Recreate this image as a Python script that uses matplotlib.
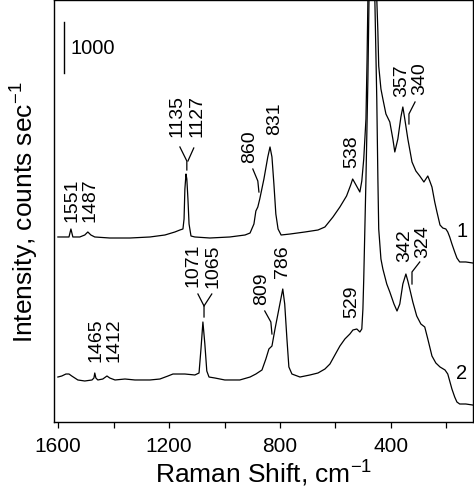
import matplotlib
matplotlib.use("Agg")
import matplotlib.pyplot as plt

plt.rcParams['font.family'] = ['Liberation Sans', 'DejaVu Sans']

# ---- spectrum 1 (upper trace) : Raman shift (cm-1), intensity (counts/s)
shift1 = [1601, 1576, 1561, 1554, 1547, 1522, 1504, 1493, 1482, 1468, 1414, 1341, 1269, 1215,
          1179, 1161, 1150, 1146, 1143, 1139, 1136, 1132, 1128, 1121, 1107, 1053, 981, 926,
          908, 894, 887, 880, 873, 858, 844, 836, 829, 822, 815, 807, 796, 764, 710, 663,
          638, 609, 584, 560, 545, 538, 526, 512, 505, 498, 490, 486, 483, 472, 461, 454,
          451, 447, 444, 436, 429, 418, 404, 393, 386, 375, 364, 357, 350, 339, 324, 310,
          296, 281, 274, 267, 260, 252, 242, 234, 223, 213, 202, 195, 188, 180, 170, 162,
          152, 130, 105]
int1 = [3628, 3628, 3628, 3785, 3628, 3628, 3667, 3726, 3667, 3628, 3608, 3608, 3628, 3667,
        3726, 3765, 3785, 3981, 4569, 4863, 4765, 4373, 3883, 3647, 3628, 3608, 3628, 3667,
        3706, 3883, 4138, 4216, 4373, 4765, 5197, 5393, 5197, 4667, 4079, 3785, 3667, 3686,
        3726, 3765, 3824, 4020, 4216, 4432, 4648, 4765, 4648, 4510, 4726, 5157, 5942, 7118,
        8295, 11236, 11236, 8883, 8295, 7648, 6981, 6530, 6334, 6040, 5883, 5550, 5295, 5550,
        5981, 6177, 5942, 5550, 5099, 4922, 4824, 4706, 4765, 4824, 4726, 4608, 4314, 4118,
        3863, 3804, 3785, 3726, 3628, 3491, 3334, 3216, 3138, 3138, 3118]

# ---- spectrum 2 (lower trace)
shift2 = [1601, 1587, 1572, 1561, 1551, 1529, 1504, 1478, 1471, 1468, 1464, 1457, 1439, 1424,
          1414, 1395, 1359, 1323, 1269, 1233, 1204, 1186, 1143, 1107, 1092, 1085, 1078, 1071,
          1064, 1056, 1035, 999, 945, 908, 887, 865, 851, 840, 829, 818, 804, 790, 783, 775,
          768, 757, 728, 692, 663, 638, 620, 602, 584, 566, 548, 537, 523, 512, 505, 501,
          498, 490, 483, 479, 469, 461, 458, 451, 447, 444, 436, 429, 415, 404, 389, 378,
          368, 357, 346, 339, 332, 321, 307, 292, 278, 267, 252, 238, 223, 205, 195, 188,
          180, 170, 162, 152, 130, 105]
int2 = [882, 902, 941, 941, 902, 824, 804, 824, 863, 961, 863, 824, 843, 902,
        863, 824, 843, 824, 824, 843, 902, 941, 941, 922, 961, 1432, 1961, 1530,
        1000, 882, 863, 824, 824, 882, 941, 1020, 1235, 1432, 1490, 1824, 2216, 2608, 2314, 1628,
        1079, 941, 882, 922, 961, 1039, 1137, 1314, 1490, 1628, 1726, 1804, 1824, 1765, 1824, 2216,
        2804, 4765, 6726, 8295, 11236, 11236, 8295, 6334, 4765, 3785, 3196, 3000, 2706, 2549, 2314, 2177,
        2314, 2706, 2902, 2765, 2608, 2353, 2079, 1922, 1863, 1628, 1294, 1157, 1079, 1020, 941, 804,
        647, 490, 392, 353, 353, 333]

# ---- peak labels: text, label centre x, label bottom y
labels_text = ['1551', '1487', '1135', '1127', '860', '831', '538', '357', '340',
               '1465', '1412', '1071', '1065', '809', '786', '529', '342', '324']
labels_x = [1551, 1486, 1172, 1100, 909, 819, 541, 362, 297,
            1464, 1399, 1114, 1042, 865, 790, 541, 352, 287]
labels_y = [3942, 3942, 5608, 5608, 5099, 5648, 5000, 6393, 6432,
            1196, 1196, 2667, 2647, 2314, 2843, 2059, 3157, 3236]

# leader lines (polylines) for close / shoulder peaks
leaders = [
    ([1161, 1136, 1136, 1136], [5393, 5118, 5118, 4942]),
    ([1111, 1132], [5373, 5118]),
    ([898, 880, 876], [4961, 4726, 4510]),
    ([313, 335, 335], [6275, 6040, 5844]),
    ([1096, 1074, 1074], [2510, 2275, 2059]),
    ([1046, 1074], [2510, 2275]),
    ([855, 833, 829], [2177, 1961, 1726]),
    ([296, 324, 324], [3138, 2942, 2706]),
]

trace_names = ['1', '2']
trace_name_x = [144, 144]
trace_name_y = [3746, 980]

scale_value = 1000
scale_x = 1579
scale_bottom = 6844

major_ticks = [1600, 1200, 800, 400]
minor_ticks = [1400, 1000, 600, 200]

fig = plt.figure(figsize=(4.74, 4.89), dpi=100)
ax = fig.add_axes([54 / 474, 66 / 489, 419 / 474, 422 / 489])

ax.plot(shift1, int1, color='black', lw=0.9)
ax.plot(shift2, int2, color='black', lw=0.9)

for t, x, y in zip(labels_text, labels_x, labels_y):
    ax.text(x, y, t, rotation=90, ha='center', va='bottom', fontsize=14)

for xs, ys in leaders:
    ax.plot(xs, ys, color='black', lw=0.9)

for t, x, y in zip(trace_names, trace_name_x, trace_name_y):
    ax.text(x, y, t, ha='center', va='center', fontsize=14.5)

ax.plot([scale_x, scale_x], [scale_bottom, scale_bottom + scale_value], color='black', lw=1.0)
ax.text(scale_x - 25, scale_bottom + scale_value / 2, str(scale_value), ha='left', va='center',
        fontsize=14.5)

ax.set_xlim(1615, 104)
ax.set_ylim(0, 8275)
ax.set_xticks(major_ticks)
ax.set_xticks(minor_ticks, minor=True)
ax.set_yticks([])
ax.tick_params(axis='x', which='both', direction='out', length=4, width=0.9, labelsize=15, pad=6)
for s in ax.spines.values():
    s.set_linewidth(1.0)

ax.set_xlabel('Raman Shift, cm$^{\\mathregular{-1}}$', fontsize=19, labelpad=1)
ax.set_ylabel('Intensity, counts sec$^{\\mathregular{-1}}$', fontsize=19, labelpad=10)

fig.savefig('out.png', dpi=100)
